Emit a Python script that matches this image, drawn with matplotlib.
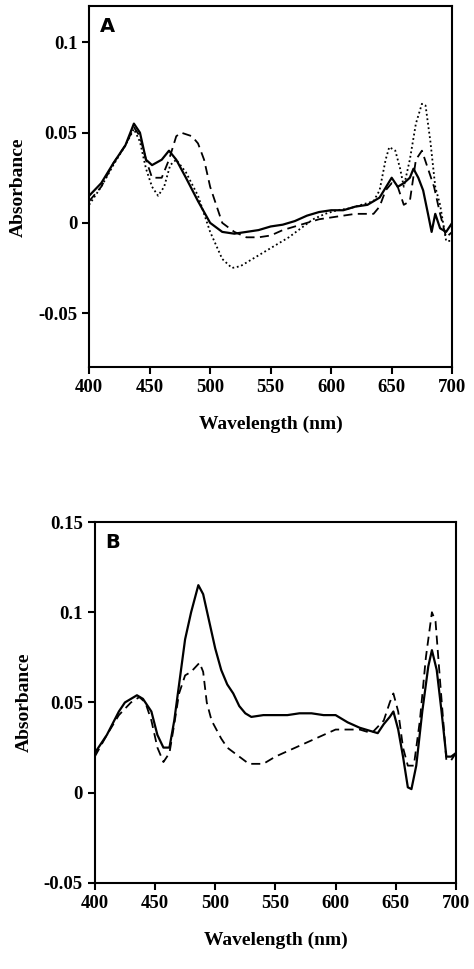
import numpy as np
import matplotlib
matplotlib.use("Agg")
import matplotlib.pyplot as plt

plt.rcParams['font.family'] = ['Liberation Serif', 'DejaVu Serif']
plt.rcParams['font.weight'] = 'bold'

# Panel A
a_solid_x = [400, 410, 420, 430, 437, 442, 447, 452, 460, 466, 472, 480, 490, 500, 510, 520, 530, 540, 550, 560,
             570, 580, 590, 600, 610, 620, 630, 640, 650, 655, 660, 665, 668, 672, 676, 680, 683, 686, 690, 695, 700]
a_solid_y = [0.015, 0.022, 0.033, 0.043, 0.055, 0.05, 0.035, 0.032, 0.035, 0.04, 0.035, 0.025, 0.012, 0.0, -0.005,
             -0.006, -0.005, -0.004, -0.002, -0.001, 0.001, 0.004, 0.006, 0.007, 0.007, 0.009, 0.01, 0.014, 0.025,
             0.02, 0.022, 0.025, 0.03, 0.025, 0.018, 0.005, -0.005, 0.005, -0.003, -0.005, 0.0]
a_dash_x = [400, 410, 420, 430, 437, 442, 447, 452, 460, 466, 472, 476, 485, 490, 495, 500, 505, 510, 520, 530,
            540, 550, 560, 570, 580, 590, 600, 610, 620, 630, 635, 640, 645, 650, 655, 660, 665, 670, 675, 680,
            685, 690, 695, 700]
a_dash_y = [0.012, 0.02, 0.033, 0.043, 0.053, 0.048, 0.035, 0.025, 0.025, 0.035, 0.048, 0.05, 0.048, 0.044, 0.035,
            0.02, 0.01, 0.0, -0.005, -0.008, -0.008, -0.007, -0.004, -0.002, 0.0, 0.002, 0.003, 0.004, 0.005,
            0.005, 0.005, 0.009, 0.018, 0.022, 0.02, 0.01, 0.012, 0.035, 0.04, 0.03, 0.02, 0.005, -0.008, -0.005]
a_dot_x = [400, 410, 420, 430, 437, 442, 447, 452, 457, 462, 467, 472, 480, 490, 500, 510, 518, 525, 535, 545,
           555, 565, 575, 585, 595, 605, 615, 625, 635, 640, 645, 648, 653, 657, 660, 665, 670, 675, 678, 682,
           686, 690, 695, 700]
a_dot_y = [0.01, 0.02, 0.032, 0.043, 0.052, 0.045, 0.03, 0.02, 0.015, 0.02, 0.032, 0.035, 0.028, 0.015, -0.005,
           -0.02, -0.025, -0.024, -0.02, -0.016, -0.012, -0.008, -0.003, 0.002, 0.005, 0.007, 0.008, 0.01, 0.012,
           0.018, 0.035, 0.042, 0.04, 0.03, 0.02, 0.035, 0.055, 0.066, 0.065, 0.045, 0.02, 0.01, -0.01, -0.01]

# Panel B
b_solid_x = [400, 410, 420, 425, 435, 440, 447, 452, 457, 462, 466, 470, 475, 480, 486, 490, 495, 500, 505, 510,
             515, 520, 525, 530, 540, 550, 560, 570, 580, 590, 600, 610, 620, 630, 635, 640, 645, 648, 652, 656,
             660, 663, 667, 672, 677, 680, 684, 688, 692, 696, 700]
b_solid_y = [0.022, 0.032, 0.045, 0.05, 0.054, 0.052, 0.045, 0.032, 0.025, 0.025, 0.04, 0.06, 0.085, 0.1, 0.115,
             0.11, 0.095, 0.08, 0.068, 0.06, 0.055, 0.048, 0.044, 0.042, 0.043, 0.043, 0.043, 0.044, 0.044, 0.043,
             0.043, 0.039, 0.036, 0.034, 0.033, 0.038, 0.042, 0.045, 0.035, 0.02, 0.003, 0.002, 0.015, 0.045, 0.07,
             0.079, 0.068, 0.045, 0.02, 0.02, 0.022]
b_dash_x = [400, 410, 420, 430, 437, 442, 447, 452, 457, 462, 466, 470, 475, 480, 487, 490, 493, 497, 505, 510,
            520, 528, 540, 550, 560, 570, 580, 590, 600, 610, 620, 630, 640, 645, 648, 652, 656, 660, 665, 670,
            675, 680, 683, 687, 692, 696, 700]
b_dash_y = [0.02, 0.032, 0.043, 0.05, 0.053, 0.05, 0.04, 0.025, 0.017, 0.022, 0.038, 0.055, 0.065, 0.067, 0.072,
            0.067, 0.05, 0.04, 0.03, 0.025, 0.02, 0.016, 0.016, 0.02, 0.023, 0.026, 0.029, 0.032, 0.035, 0.035,
            0.035, 0.033, 0.04, 0.05, 0.055, 0.045, 0.025, 0.015, 0.015, 0.04, 0.075, 0.1, 0.095, 0.06, 0.018,
            0.018, 0.022]

fig = plt.figure(figsize=(4.74, 9.69), dpi=100)
ax_a = fig.add_axes([0.188, 0.621, 0.766, 0.3725])
ax_b = fig.add_axes([0.200, 0.0888, 0.762, 0.3725])

ax_a.plot(a_solid_x, a_solid_y, color="black", lw=1.6, ls="-")
ax_a.plot(a_dash_x, a_dash_y, color="black", lw=1.3, ls=(0, (5, 3)))
ax_a.plot(a_dot_x, a_dot_y, color="black", lw=1.3, ls=(0, (1, 1.5)))
ax_a.set_ylim(-0.08, 0.12)
ax_a.set_yticks([-0.05, 0, 0.05, 0.1])
ax_a.set_yticklabels(["-0.05", "0", "0.05", "0.1"])

ax_b.plot(b_solid_x, b_solid_y, color="black", lw=1.6, ls="-")
ax_b.plot(b_dash_x, b_dash_y, color="black", lw=1.3, ls=(0, (5, 3)))
ax_b.set_ylim(-0.05, 0.15)
ax_b.set_yticks([-0.05, 0, 0.05, 0.1, 0.15])
ax_b.set_yticklabels(["-0.05", "0", "0.05", "0.1", "0.15"])

for ax, lab in ((ax_a, "A"), (ax_b, "B")):
    ax.set_xlim(400, 700)
    ax.set_xticks(range(400, 701, 50))
    for s in ax.spines.values():
        s.set_linewidth(1.5)
    ax.tick_params(labelsize=13.5, width=1.5, length=5, direction="out")
    ax.set_xlabel("Wavelength (nm)", fontsize=14, fontweight="bold", labelpad=14)
    ax.set_ylabel("Absorbance", fontsize=14, fontweight="bold", labelpad=8)
    ax.text(0.03, 0.97, lab, transform=ax.transAxes, fontsize=14, fontweight="bold",
            ha="left", va="top", family=["DejaVu Sans"])

fig.savefig("out.png", dpi=100)
